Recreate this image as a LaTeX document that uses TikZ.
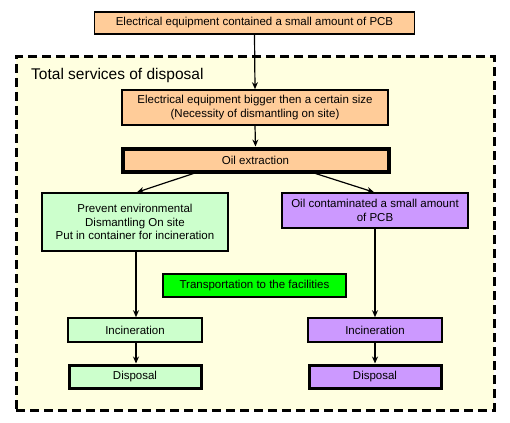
\documentclass[tikz,border=0pt]{standalone}
\usepackage{fontspec}
\setmainfont{Liberation Sans}
\usetikzlibrary{arrows.meta}
\definecolor{peach}{HTML}{FFCC99}
\definecolor{mint}{HTML}{CCFFCC}
\definecolor{lilac}{HTML}{CC99FF}
\definecolor{lime}{HTML}{00FF00}
\definecolor{cream}{HTML}{FFFFE0}
\tikzset{
  box/.style={draw=black, line width=1.6pt, inner sep=0pt, font=\fontsize{11.5}{13.5}\selectfont, align=center},
  thickbox/.style={box, line width=4pt},
  arr/.style={-{Stealth[length=7pt,width=6pt]}, line width=1.2pt},
}
\begin{document}
\begin{tikzpicture}[x=1pt,y=-1pt]
\useasboundingbox (0,0) rectangle (510,422);
% frame
\node[draw=black, line width=3pt, dash pattern=on 9pt off 5pt, fill=cream, minimum width=478pt, minimum height=353pt, inner sep=0pt] (frame) at (255,233.5) {};
\node[anchor=west, inner sep=0pt, font=\fontsize{15.5}{18}\selectfont] (title) at (31,75) {Total services of disposal};
% boxes
\node[box, fill=peach, minimum width=320pt, minimum height=22pt] (top) at (254.5,23) {Electrical equipment contained a small amount of PCB};
\node[box, fill=peach, minimum width=266pt, minimum height=35pt] (big) at (255,107.5) {Electrical equipment bigger then a certain size\\(Necessity of dismantling on site)};
\node[thickbox, fill=peach, minimum width=266pt, minimum height=23pt] (oil) at (255.5,160) {Oil extraction};
\node[box, fill=mint, minimum width=186pt, minimum height=58pt] (prev) at (135,222) {Prevent environmental\\Dismantling On site\\Put in container for incineration};
\node[box, fill=lilac, minimum width=186pt, minimum height=35pt] (cont) at (375,210.5) {Oil contaminated a small amount\\of PCB};
\node[box, fill=lime, minimum width=183pt, minimum height=23pt] (trans) at (254.5,285.5) {Transportation to the facilities};
\node[box, fill=mint, minimum width=134pt, minimum height=24pt] (incL) at (135,330) {Incineration};
\node[box, fill=lilac, minimum width=134pt, minimum height=24pt] (incR) at (375,330) {Incineration};
\node[thickbox, line width=3pt, fill=mint, minimum width=132pt, minimum height=23pt] (disL) at (135,376.5) {Disposal};
\node[thickbox, line width=3pt, fill=lilac, minimum width=132pt, minimum height=23pt] (disR) at (375,376.5) {Disposal};
% connectors
\draw[arr] (top.south) -- (big.north);
\draw[arr] (big.south) -- (oil.north);
\draw[arr] ([xshift=-62pt]oil.south) -- ([xshift=2pt]prev.north);
\draw[arr] ([xshift=60pt]oil.south) -- ([xshift=-1pt]cont.north);
\draw[arr] ([xshift=1pt]prev.south) -- ([xshift=1pt]incL.north);
\draw[arr] (cont.south) -- (incR.north);
\draw[arr] ([xshift=1pt]incL.south) -- ([xshift=1pt]disL.north);
\draw[arr] (incR.south) -- (disR.north);
\end{tikzpicture}
\end{document}
